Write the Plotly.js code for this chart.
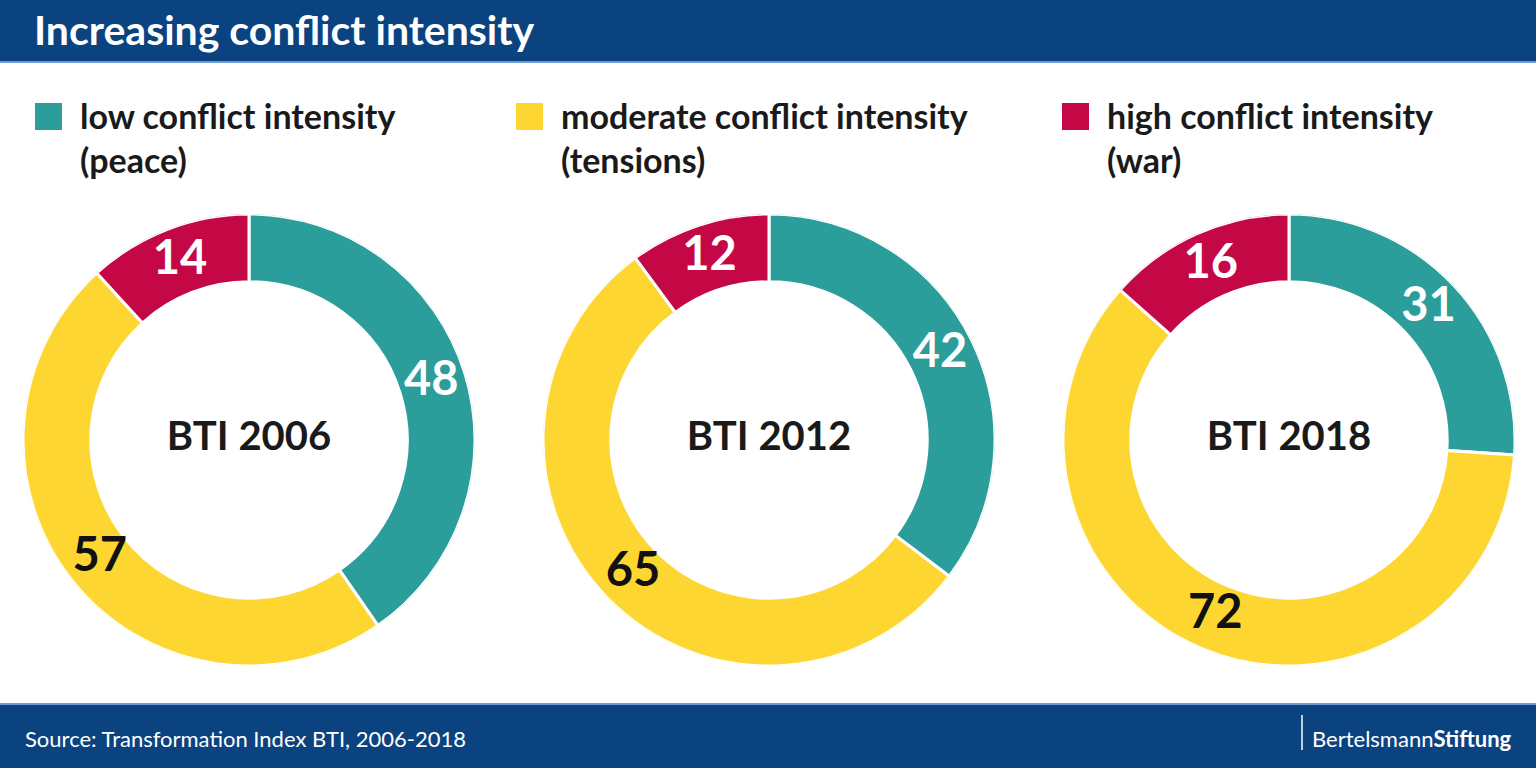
<!DOCTYPE html>
<html>
<head>
<meta charset="utf-8">
<script src="https://cdn.plot.ly/plotly-3.0.1.min.js"></script>
<style>
html,body{margin:0;padding:0;background:#fff;}
#chart{width:1536px;height:768px;}
</style>
</head>
<body>
<div id="chart"></div>
<script>
// ---- data ----
const categories = ['low conflict intensity', 'moderate conflict intensity', 'high conflict intensity'];
const categoryNotes = ['(peace)', '(tensions)', '(war)'];
const editions = ['BTI 2006', 'BTI 2012', 'BTI 2018'];
const values2006 = [48, 57, 14];
const values2012 = [42, 65, 12];
const values2018 = [31, 72, 16];
const chartTitle = 'Increasing conflict intensity';
const sourceText = 'Source: Transformation Index BTI, 2006-2018';

// ---- styles ----
const W = 1536, H = 768;
const colors = ['#2b9d9a', '#fdd631', '#c30845'];
const labelColors = ['#ffffff', '#111111', '#ffffff'];
const navy = '#0b4381';
const FONT = 'Lato, "Open Sans", sans-serif';

const seriesValues = [values2006, values2012, values2018];
const centersX = [249, 769, 1289];
const centerY = 440;
const R = 226;
const holeFrac = 0.70;
const labelRadius = 0.845;

function domainFor(i) {
  return {
    x: [(centersX[i] - R) / W, (centersX[i] + R) / W],
    y: [(H - centerY - R) / H, (H - centerY + R) / H]
  };
}

const traces = [];
seriesValues.forEach((vals, i) => {
  const subplot = i === 0 ? 'polar' : 'polar' + (i + 1);
  const total = vals.reduce((a, b) => a + b, 0);
  let cum = 0;
  const widths = vals.map(v => v / total * 360);
  const thetas = vals.map(v => { const t = (cum + v / 2) / total * 360; cum += v; return t; });
  // donut ring: one polar bar per category, angular width proportional to the value
  traces.push({
    type: 'barpolar',
    subplot: subplot,
    theta: thetas,
    width: widths,
    r: vals.map(() => 1 - holeFrac),
    base: holeFrac,
    text: categories,
    customdata: vals,
    hovertemplate: '%{text}: %{customdata}<extra></extra>',
    marker: {color: colors, line: {color: '#ffffff', width: 3}},
    showlegend: false
  });
  // value labels at each slice's mid-angle
  traces.push({
    type: 'scatterpolar',
    subplot: subplot,
    mode: 'text',
    r: vals.map(() => labelRadius),
    theta: thetas,
    text: vals.map(v => '<b>' + v + '</b>'),
    textposition: 'middle center',
    textfont: {family: FONT, size: 47, color: labelColors},
    hoverinfo: 'skip',
    showlegend: false
  });
  // edition label in the hole
  traces.push({
    type: 'scatterpolar',
    subplot: subplot,
    mode: 'text',
    r: [0],
    theta: [0],
    text: ['<b>' + editions[i] + '</b>'],
    textposition: 'middle center',
    textfont: {family: FONT, size: 40, color: '#1a1a1a'},
    hoverinfo: 'skip',
    showlegend: false
  });
});

// legend built from category arrays
const legendX = [35, 516, 1062];
const sq = 27;
const shapes = [
  {type: 'rect', xref: 'paper', yref: 'paper', x0: 0, x1: 1, y0: 1 - 62 / H, y1: 1, fillcolor: navy, line: {width: 0}, layer: 'below'},
  {type: 'line', xref: 'paper', yref: 'paper', x0: 0, x1: 1, y0: 1 - 62 / H, y1: 1 - 62 / H, line: {color: '#6f9bd0', width: 2}},
  {type: 'rect', xref: 'paper', yref: 'paper', x0: 0, x1: 1, y0: 0, y1: 64 / H, fillcolor: navy, line: {width: 0}, layer: 'below'},
  {type: 'line', xref: 'paper', yref: 'paper', x0: 0, x1: 1, y0: 64 / H, y1: 64 / H, line: {color: '#6f9bd0', width: 2}},
  {type: 'line', xref: 'paper', yref: 'paper', x0: 1302 / W, x1: 1302 / W, y0: 1 - 750 / H, y1: 1 - 715 / H, line: {color: '#ffffff', width: 1.5}}
];
const annotations = [];
categories.forEach((c, i) => {
  shapes.push({type: 'rect', xref: 'paper', yref: 'paper',
    x0: legendX[i] / W, x1: (legendX[i] + sq) / W,
    y0: 1 - (103 + sq) / H, y1: 1 - 103 / H,
    fillcolor: colors[i], line: {width: 0}});
  annotations.push({xref: 'paper', yref: 'paper', x: (legendX[i] + 43) / W, y: 1 - 93 / H,
    xanchor: 'left', yanchor: 'top', align: 'left', showarrow: false,
    text: c + '<br>' + categoryNotes[i],
    font: {family: FONT, size: 34, color: '#1a1a1a', weight: 700}});
});
annotations.push({xref: 'paper', yref: 'paper', x: 23 / W, y: 1 - 738 / H, xanchor: 'left', yanchor: 'middle',
  showarrow: false, text: sourceText, font: {family: FONT, size: 22, color: '#ffffff'}});
annotations.push({xref: 'paper', yref: 'paper', x: 1514 / W, y: 1 - 738 / H, xanchor: 'right', yanchor: 'middle',
  showarrow: false, text: 'Bertelsmann<b>Stiftung</b>', font: {family: FONT, size: 22, color: '#ffffff'}});

const hiddenPolar = i => ({
  domain: domainFor(i),
  bgcolor: 'rgba(0,0,0,0)',
  bargap: 0,
  radialaxis: {visible: false, range: [0, 1]},
  angularaxis: {visible: false, direction: 'clockwise', rotation: 90, thetaunit: 'degrees'}
});

const layout = {
  width: W, height: H,
  margin: {l: 0, r: 0, t: 0, b: 0},
  paper_bgcolor: '#ffffff',
  title: {text: chartTitle, x: 34 / W, xanchor: 'left', xref: 'paper', y: 1 - 31 / H, yanchor: 'middle', yref: 'paper',
    font: {family: FONT, size: 41, color: '#ffffff', weight: 700}},
  polar: hiddenPolar(0),
  polar2: hiddenPolar(1),
  polar3: hiddenPolar(2),
  shapes: shapes,
  annotations: annotations,
  showlegend: false
};

Plotly.newPlot('chart', traces, layout, {displayModeBar: false});
</script>
</body>
</html>
